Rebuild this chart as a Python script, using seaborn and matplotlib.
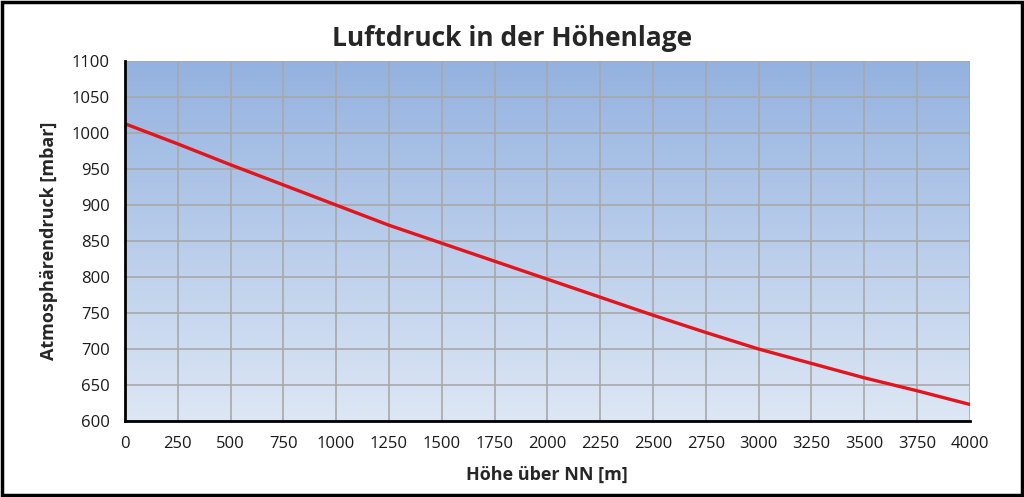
import numpy as np
import pandas as pd
import matplotlib
matplotlib.use("Agg")
import matplotlib.pyplot as plt
import seaborn as sns
from matplotlib.colors import LinearSegmentedColormap
from matplotlib.patches import Rectangle

sns.set_style("white")
plt.rcParams["font.family"] = ["Open Sans", "DejaVu Sans"]

hoehe = [0, 250, 500, 750, 1000, 1250, 1500, 1750, 2000, 2250,
         2500, 2750, 3000, 3250, 3500, 3750, 4000]
druck = [1013, 985, 956, 928, 900, 872, 847, 822, 797, 772,
         747, 723, 700, 680, 660, 642, 623]

df = pd.DataFrame({"Hoehe": hoehe, "Druck": druck})

fig = plt.figure(figsize=(10.24, 4.97), dpi=100)
ax = fig.add_axes([0.122, 0.153, 0.825, 0.724])

# blue gradient background of the plot area
cmap = LinearSegmentedColormap.from_list("bg", ["#dde7f5", "#94b2e0"])
grad = np.linspace(0, 1, 256).reshape(-1, 1)
ax.imshow(grad, cmap=cmap, aspect="auto", origin="lower",
          extent=[0, 1, 0, 1], transform=ax.transAxes, zorder=0)

sns.lineplot(data=df, x="Hoehe", y="Druck", ax=ax, color="#e3141b",
             linewidth=2.4, zorder=3)

ax.set_xlim(0, 4000)
ax.set_ylim(600, 1100)
ax.set_xticks(range(0, 4001, 250))
ax.set_yticks(range(600, 1101, 50))
ax.grid(True, color="#a8a8a8", linewidth=1.2, zorder=1)
ax.set_axisbelow(False)
for line in ax.get_xgridlines() + ax.get_ygridlines():
    line.set_zorder(1)

for side in ["top", "right"]:
    ax.spines[side].set_visible(False)
for side in ["left", "bottom"]:
    ax.spines[side].set_color("black")
    ax.spines[side].set_linewidth(2)
    ax.spines[side].set_zorder(4)

ax.tick_params(axis="x", labelsize=12, length=0, pad=11, colors="#1a1a1a")
ax.tick_params(axis="y", labelsize=12, length=0, pad=11, colors="#1a1a1a")
ax.set_xlabel("Höhe über NN [m]", fontsize=13, fontweight="bold", labelpad=10)
ax.set_ylabel("Atmosphärendruck [mbar]", fontsize=13, fontweight="bold", labelpad=10)
fig.suptitle("Luftdruck in der Höhenlage", fontsize=19, fontweight="bold", y=0.95)

# black frame around the whole picture
fig.patches.append(Rectangle((0.002, 0.004), 0.996, 0.992, transform=fig.transFigure,
                             fill=False, edgecolor="black", linewidth=2.5))

fig.savefig("out.png", dpi=100)
